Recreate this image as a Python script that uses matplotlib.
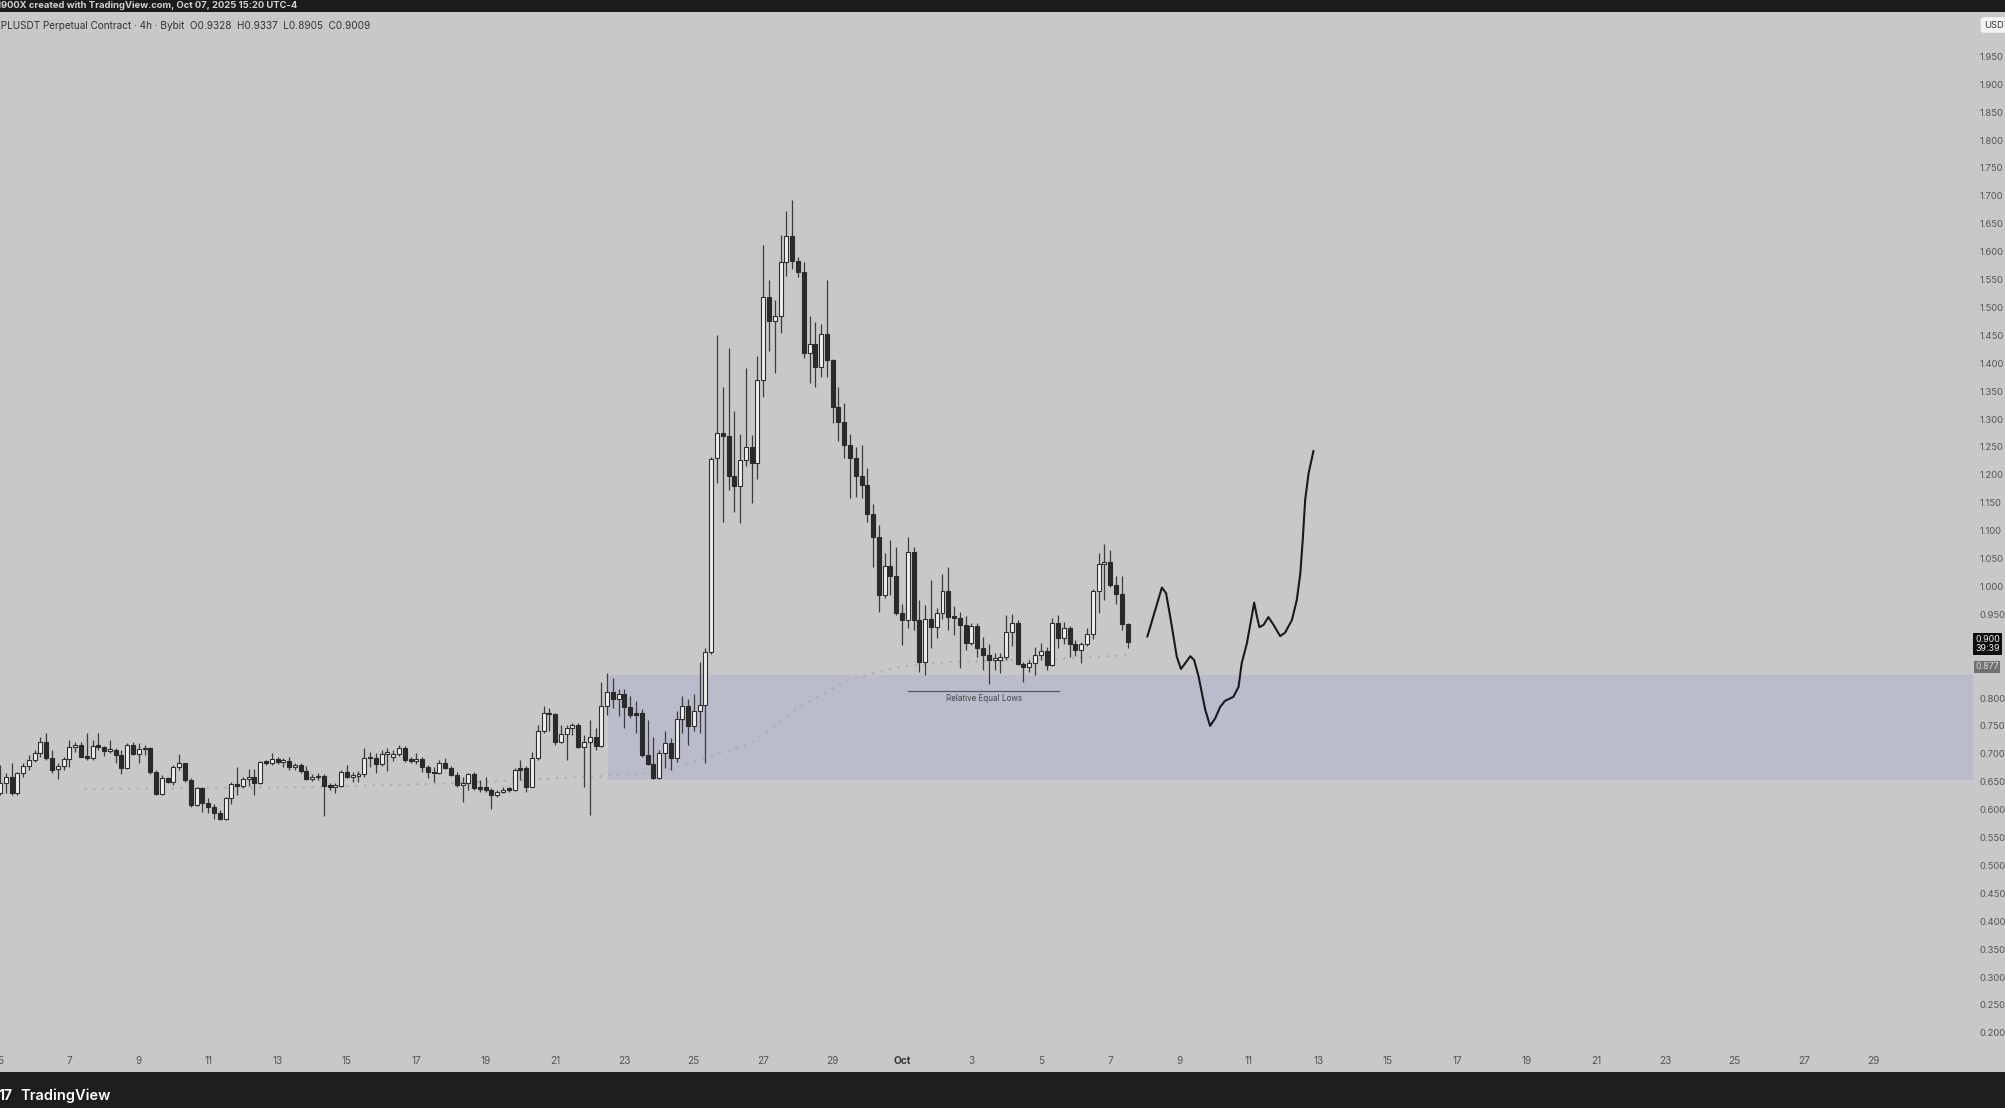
import numpy as np
import matplotlib
matplotlib.use("Agg")
import matplotlib.pyplot as plt
import matplotlib.transforms as mtransforms
from matplotlib.patches import Rectangle

plt.rcParams['font.family'] = ['Inter', 'DejaVu Sans']

# 4h candles, first bar opens Sep 5 00:00 (x axis = day number, Sep d = d, Oct d = 30 + d)
first_bar_day = 5.0
bars_per_day = 6

opens = [0.629, 0.647, 0.659, 0.629, 0.666, 0.678, 0.689, 0.702, 0.722, 0.693,
         0.672, 0.678, 0.691, 0.713, 0.716, 0.695, 0.693, 0.714, 0.712, 0.705,
         0.707, 0.698, 0.674, 0.716, 0.700, 0.708, 0.710, 0.668, 0.628, 0.656,
         0.650, 0.676, 0.683, 0.653, 0.608, 0.638, 0.611, 0.604, 0.594, 0.584,
         0.620, 0.646, 0.643, 0.654, 0.659, 0.647, 0.686, 0.684, 0.690, 0.686,
         0.688, 0.676, 0.680, 0.670, 0.654, 0.658, 0.660, 0.642, 0.641, 0.643,
         0.668, 0.659, 0.661, 0.664, 0.692, 0.693, 0.682, 0.700, 0.694, 0.700,
         0.710, 0.689, 0.688, 0.690, 0.676, 0.668, 0.665, 0.684, 0.674, 0.662,
         0.644, 0.648, 0.664, 0.640, 0.640, 0.635, 0.626, 0.632, 0.636, 0.635,
         0.674, 0.674, 0.641, 0.692, 0.740, 0.773, 0.771, 0.722, 0.736, 0.746,
         0.752, 0.713, 0.722, 0.731, 0.714, 0.786, 0.811, 0.799, 0.807, 0.784,
         0.773, 0.773, 0.698, 0.682, 0.656, 0.702, 0.720, 0.692, 0.762, 0.786,
         0.749, 0.777, 0.787, 0.883, 1.2295, 1.2755, 1.270, 1.198, 1.180, 1.2265,
         1.2504, 1.2217, 1.370, 1.519, 1.476, 1.4846, 1.582, 1.628, 1.584, 1.564,
         1.418, 1.434, 1.393, 1.452, 1.405, 1.322, 1.295, 1.253, 1.2295, 1.198,
         1.182, 1.129, 1.089, 0.985, 1.037, 1.018, 0.952, 0.940, 1.061, 0.940,
         0.865, 0.941, 0.927, 0.953, 0.991, 0.945, 0.944, 0.931, 0.898, 0.929,
         0.889, 0.877, 0.869, 0.868, 0.874, 0.919, 0.935, 0.861, 0.855, 0.863,
         0.877, 0.885, 0.859, 0.934, 0.907, 0.925, 0.897, 0.886, 0.897, 0.915,
         0.992, 1.040, 1.043, 1.002, 0.986, 0.9328]
highs = [0.680, 0.665, 0.684, 0.668, 0.683, 0.698, 0.707, 0.731, 0.738, 0.706,
         0.683, 0.694, 0.725, 0.722, 0.722, 0.738, 0.725, 0.738, 0.714, 0.725,
         0.710, 0.707, 0.719, 0.722, 0.719, 0.716, 0.712, 0.671, 0.662, 0.659,
         0.680, 0.700, 0.684, 0.656, 0.640, 0.640, 0.620, 0.610, 0.599, 0.622,
         0.650, 0.676, 0.659, 0.672, 0.672, 0.688, 0.689, 0.702, 0.694, 0.692,
         0.694, 0.684, 0.683, 0.678, 0.663, 0.665, 0.663, 0.648, 0.647, 0.671,
         0.680, 0.668, 0.670, 0.710, 0.704, 0.702, 0.707, 0.710, 0.707, 0.716,
         0.714, 0.695, 0.701, 0.695, 0.680, 0.677, 0.689, 0.692, 0.678, 0.668,
         0.659, 0.666, 0.668, 0.653, 0.659, 0.638, 0.635, 0.641, 0.641, 0.674,
         0.689, 0.678, 0.704, 0.752, 0.785, 0.783, 0.774, 0.752, 0.752, 0.755,
         0.755, 0.734, 0.761, 0.747, 0.829, 0.844, 0.835, 0.817, 0.817, 0.804,
         0.795, 0.781, 0.761, 0.731, 0.707, 0.740, 0.728, 0.776, 0.804, 0.798,
         0.808, 0.865, 0.890, 1.232, 1.4505, 1.358, 1.4266, 1.315, 1.273, 1.391,
         1.271, 1.413, 1.612, 1.549, 1.513, 1.630, 1.673, 1.6925, 1.590, 1.582,
         1.485, 1.473, 1.470, 1.550, 1.407, 1.357, 1.329, 1.273, 1.250, 1.253,
         1.213, 1.148, 1.110, 1.059, 1.084, 1.071, 0.968, 1.089, 1.071, 0.975,
         0.967, 1.012, 0.961, 1.022, 1.034, 0.965, 0.955, 0.947, 0.935, 0.934,
         0.910, 0.897, 0.880, 0.881, 0.949, 0.951, 0.940, 0.865, 0.869, 0.892,
         0.899, 0.892, 0.943, 0.949, 0.937, 0.929, 0.904, 0.901, 0.925, 0.995,
         1.059, 1.076, 1.066, 1.019, 1.019, 0.9337]
lows = [0.627, 0.629, 0.626, 0.627, 0.659, 0.671, 0.686, 0.695, 0.689, 0.665,
        0.654, 0.671, 0.677, 0.704, 0.694, 0.689, 0.689, 0.707, 0.696, 0.701,
        0.683, 0.664, 0.672, 0.698, 0.683, 0.698, 0.664, 0.627, 0.626, 0.647,
        0.644, 0.671, 0.650, 0.605, 0.606, 0.596, 0.594, 0.584, 0.581, 0.582,
        0.610, 0.626, 0.638, 0.642, 0.626, 0.646, 0.680, 0.680, 0.682, 0.676,
        0.671, 0.671, 0.665, 0.653, 0.652, 0.653, 0.588, 0.635, 0.630, 0.640,
        0.656, 0.650, 0.650, 0.659, 0.677, 0.665, 0.678, 0.670, 0.688, 0.696,
        0.686, 0.683, 0.682, 0.668, 0.656, 0.650, 0.664, 0.672, 0.660, 0.641,
        0.614, 0.635, 0.635, 0.632, 0.632, 0.602, 0.623, 0.629, 0.632, 0.634,
        0.653, 0.632, 0.640, 0.689, 0.738, 0.740, 0.716, 0.719, 0.689, 0.734,
        0.710, 0.641, 0.590, 0.706, 0.713, 0.770, 0.782, 0.767, 0.747, 0.765,
        0.737, 0.695, 0.680, 0.655, 0.654, 0.674, 0.671, 0.686, 0.737, 0.716,
        0.740, 0.737, 0.683, 0.878, 1.1847, 1.116, 1.173, 1.134, 1.113, 1.215,
        1.150, 1.192, 1.340, 1.422, 1.383, 1.4535, 1.556, 1.568, 1.555, 1.409,
        1.364, 1.358, 1.376, 1.376, 1.292, 1.261, 1.230, 1.158, 1.161, 1.158,
        1.116, 1.035, 0.955, 0.980, 0.985, 0.949, 0.895, 0.925, 0.922, 0.847,
        0.841, 0.889, 0.907, 0.941, 0.921, 0.913, 0.853, 0.886, 0.895, 0.874,
        0.850, 0.826, 0.851, 0.844, 0.868, 0.893, 0.859, 0.829, 0.847, 0.841,
        0.869, 0.850, 0.857, 0.889, 0.897, 0.874, 0.875, 0.862, 0.893, 0.905,
        0.953, 0.976, 0.999, 0.968, 0.922, 0.8905]
closes = [0.647, 0.659, 0.629, 0.666, 0.678, 0.689, 0.702, 0.722, 0.693, 0.671,
          0.678, 0.691, 0.713, 0.716, 0.695, 0.693, 0.714, 0.712, 0.705, 0.707,
          0.698, 0.674, 0.716, 0.700, 0.708, 0.710, 0.668, 0.628, 0.656, 0.650,
          0.676, 0.683, 0.653, 0.608, 0.638, 0.611, 0.604, 0.594, 0.584, 0.620,
          0.646, 0.643, 0.654, 0.659, 0.647, 0.686, 0.684, 0.690, 0.686, 0.688,
          0.676, 0.680, 0.670, 0.654, 0.658, 0.660, 0.642, 0.641, 0.643, 0.668,
          0.659, 0.661, 0.664, 0.692, 0.693, 0.682, 0.700, 0.703, 0.700, 0.710,
          0.689, 0.688, 0.690, 0.676, 0.668, 0.665, 0.684, 0.674, 0.662, 0.644,
          0.648, 0.664, 0.638, 0.637, 0.635, 0.626, 0.632, 0.636, 0.635, 0.671,
          0.671, 0.641, 0.692, 0.740, 0.773, 0.771, 0.722, 0.736, 0.746, 0.752,
          0.713, 0.722, 0.731, 0.714, 0.786, 0.811, 0.799, 0.807, 0.784, 0.770,
          0.770, 0.698, 0.682, 0.656, 0.702, 0.720, 0.692, 0.762, 0.786, 0.749,
          0.777, 0.787, 0.883, 1.228, 1.2755, 1.270, 1.198, 1.180, 1.2265, 1.2504,
          1.2217, 1.370, 1.519, 1.476, 1.4846, 1.582, 1.628, 1.584, 1.564, 1.418,
          1.434, 1.393, 1.452, 1.405, 1.322, 1.295, 1.253, 1.2295, 1.198, 1.182,
          1.129, 1.089, 0.985, 1.037, 1.018, 0.952, 0.940, 1.061, 0.940, 0.865,
          0.941, 0.927, 0.953, 0.991, 0.945, 0.944, 0.931, 0.898, 0.929, 0.889,
          0.877, 0.869, 0.871, 0.874, 0.919, 0.935, 0.861, 0.855, 0.863, 0.877,
          0.885, 0.859, 0.934, 0.907, 0.925, 0.897, 0.886, 0.897, 0.915, 0.992,
          1.040, 1.043, 1.002, 0.986, 0.9328, 0.9009]

# moving average (dotted), read at a few days
ma_day = [7.46, 13.66, 17.98, 22.30, 24.03, 25.18, 26.63, 28.07, 29.51, 30.95, 32.39, 35.27, 37.58]
ma_value = [0.637, 0.640, 0.647, 0.660, 0.667, 0.690, 0.718, 0.785, 0.834, 0.856, 0.865, 0.869, 0.877]

# hand drawn projection
path_day = [38.07, 38.30, 38.49, 38.61, 38.73, 38.92, 39.04, 39.16, 39.31, 39.42, 39.55, 39.74,
            39.88, 40.03, 40.17, 40.31, 40.55, 40.70, 40.79, 40.94, 41.08, 41.15, 41.23, 41.30,
            41.42, 41.56, 41.71, 41.90, 42.04, 42.24, 42.38, 42.48, 42.55, 42.62, 42.72, 42.86]
path_price = [0.910, 0.958, 0.998, 0.988, 0.946, 0.874, 0.852, 0.862, 0.875, 0.868, 0.838, 0.779,
              0.750, 0.764, 0.784, 0.795, 0.802, 0.820, 0.862, 0.898, 0.946, 0.971, 0.946, 0.927,
              0.931, 0.945, 0.931, 0.911, 0.917, 0.940, 0.976, 1.023, 1.083, 1.155, 1.203, 1.243]

zone_start_day = 22.53
zone_low, zone_high = 0.653, 0.841
eq_lows_day = [31.18, 35.53]
eq_lows_price = 0.8126

# 0.850 and 0.900 sit under the price tags
price_ticks = [v for v in np.round(np.arange(0.20, 1.951, 0.05), 3) if v not in (0.85, 0.9)]
tick_days = list(range(5, 30, 2)) + [31] + list(range(33, 60, 2))
tick_labels = [str(d) for d in range(5, 30, 2)] + ['Oct'] + [str(d - 30) for d in range(33, 60, 2)]

last_price = 0.9009
ma_last = 0.877

BG = '#c8c8c8'
W, H = 2006, 1108

fig = plt.figure(figsize=(W / 100, H / 100), dpi=100, facecolor=BG)
ax = fig.add_axes([0, 60 / H, 1973 / W, 1035 / H])
ax.set_facecolor(BG)
for s in ax.spines.values():
    s.set_visible(False)

ax.set_xlim(5.0115, 61.87)
ax.set_ylim(0.1728, 2.0276)

# demand zone
ax.add_patch(Rectangle((zone_start_day, zone_low), 61.87 - zone_start_day, zone_high - zone_low,
                       facecolor='#babbcb', edgecolor='none', zorder=1))

# moving average
ax.plot(ma_day, ma_value, color='#adadad', lw=1.7, linestyle=(0, (0.1, 3.6)),
        dash_capstyle='round', zorder=2)

# candles
o = np.array(opens)
h = np.array(highs)
l = np.array(lows)
c = np.array(closes)
t = first_bar_day + np.arange(len(c)) / bars_per_day
up = c >= o
ax.vlines(t, l, h, color='#3c3c3c', lw=0.9, zorder=3)
body_low = np.minimum(o, c)
body_h = np.maximum(np.abs(c - o), 0.003)
ax.bar(t[up], body_h[up], bottom=body_low[up], width=0.115, color='#efefef',
       edgecolor='#2e2e2e', linewidth=0.8, zorder=4)
ax.bar(t[~up], body_h[~up], bottom=body_low[~up], width=0.115, color='#2a2a2a',
       edgecolor='#2a2a2a', linewidth=0.8, zorder=4)

# relative equal lows
ax.plot(eq_lows_day, [eq_lows_price, eq_lows_price], color='#5a5a5a', lw=0.9, zorder=5)
ax.text(sum(eq_lows_day) / 2, eq_lows_price - 0.014, 'Relative Equal Lows', ha='center',
        va='center', fontsize=5.8, color='#444444', zorder=5)

# projection
ax.plot(path_day, path_price, color='#1a1a1a', lw=1.5, solid_capstyle='round',
        solid_joinstyle='round', zorder=6)

# axes
ax.yaxis.tick_right()
ax.set_yticks(price_ticks)
ax.set_yticklabels([f'{v:.3f}' for v in price_ticks])
ax.tick_params(axis='y', length=0, pad=4.5, labelsize=6.8, labelcolor='#555555')
ax.set_xticks(tick_days)
ax.set_xticklabels(tick_labels)
ax.tick_params(axis='x', length=0, pad=5.5, labelsize=7.3, labelcolor='#555555')
for lbl in ax.get_xticklabels():
    if lbl.get_text() == 'Oct':
        lbl.set_fontweight('bold')
        lbl.set_color('#333333')

# price tags on the scale
tr = mtransforms.blended_transform_factory(ax.transAxes, ax.transData)
ax.text(1.0012, last_price - 0.004, '0.900\n39:39', transform=tr, ha='left', va='center',
        fontsize=6.4, color='#f0f0f0', linespacing=1.0, clip_on=False, zorder=10,
        bbox=dict(boxstyle='square,pad=0.22', fc='#0d0d0d', ec='none'))
ax.text(1.0012, ma_last - 0.021, '0.877', transform=tr, ha='left', va='center',
        fontsize=6.4, color='#d8d8d8', clip_on=False, zorder=9,
        bbox=dict(boxstyle='square,pad=0.15', fc='#707070', ec='none'))

# top bar
fig.add_artist(Rectangle((0, 1 - 12 / H), 1, 12 / H, transform=fig.transFigure,
                         facecolor='#1c1c1c', edgecolor='none'))
fig.text(-3 / W, 1 - 5.5 / H, '1900X created with TradingView.com, Oct 07, 2025 15:20 UTC-4',
         fontsize=6.8, color='#d2d2d2', fontweight='bold', va='center', ha='left')
fig.text(-6 / W, 1 - 26 / H,
         'XPLUSDT Perpetual Contract \u00b7 4h \u00b7 Bybit  O0.9328  H0.9337  L0.8905  C0.9009',
         fontsize=7.2, color='#333333', va='center', ha='left')
fig.text(1984 / W, 1 - 25 / H, 'USDT', fontsize=6.8, color='#333333', va='center', ha='left',
         bbox=dict(boxstyle='round,pad=0.35', fc='#f4f4f4', ec='none'))

# bottom bar
fig.add_artist(Rectangle((0, 0), 1, 36 / H, transform=fig.transFigure,
                         facecolor='#1e1e1e', edgecolor='none'))
fig.text(-2 / W, 12 / H, '17', fontsize=10, color='white', fontweight='bold', va='center', ha='left')
fig.text(20 / W, 12 / H, 'TradingView', fontsize=10.5, color='white', fontweight='semibold',
         va='center', ha='left')

fig.savefig('out.png', dpi=100, facecolor=BG)
